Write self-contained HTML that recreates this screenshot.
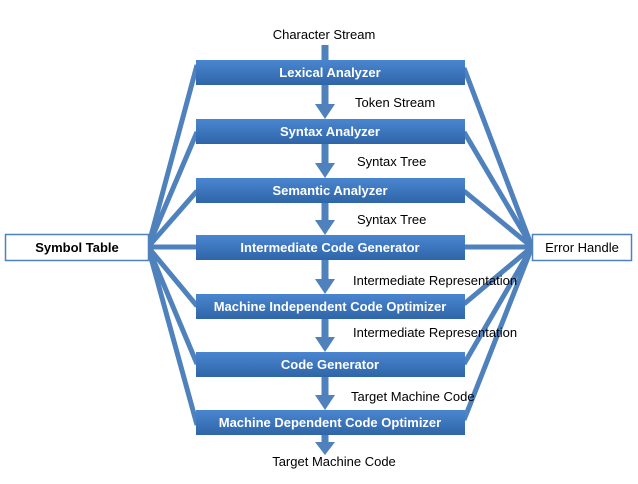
<!DOCTYPE html>
<html><head><style>
body{margin:0;width:638px;height:479px;background:#fff;overflow:hidden;font-family:"Liberation Sans",sans-serif}
</style></head><body>
<svg width="638" height="479" xmlns="http://www.w3.org/2000/svg">
<defs>
<linearGradient id="g" x1="0" y1="0" x2="0" y2="1">
<stop offset="0" stop-color="#4a86d0"/><stop offset="1" stop-color="#2f65a8"/>
</linearGradient>
</defs>
<g stroke="#4f81bd" stroke-width="5" fill="none">
<line x1="148" y1="247" x2="197" y2="65"/>
<line x1="148" y1="247" x2="197" y2="132"/>
<line x1="148" y1="247" x2="197" y2="191"/>
<line x1="148" y1="247" x2="197" y2="247"/>
<line x1="148" y1="247" x2="197" y2="306"/>
<line x1="148" y1="247" x2="197" y2="364"/>
<line x1="148" y1="247" x2="197" y2="425"/>
<line x1="532" y1="247" x2="464" y2="68"/>
<line x1="532" y1="247" x2="464" y2="132"/>
<line x1="532" y1="247" x2="464" y2="191"/>
<line x1="532" y1="247" x2="464" y2="247"/>
<line x1="532" y1="247" x2="464" y2="304"/>
<line x1="532" y1="247" x2="464" y2="364"/>
<line x1="532" y1="247" x2="464" y2="420"/>
</g>
<g fill="#4f81bd" stroke="#4f81bd">
<g stroke-width="7">
<line x1="325" y1="45" x2="325" y2="60"/>
<line x1="325" y1="85" x2="325" y2="108"/>
<line x1="325" y1="144" x2="325" y2="167"/>
<line x1="325" y1="203" x2="325" y2="224"/>
<line x1="325" y1="260" x2="325" y2="283"/>
<line x1="325" y1="319" x2="325" y2="341"/>
<line x1="325" y1="377" x2="325" y2="399"/>
<line x1="325" y1="435" x2="325" y2="445"/>
</g>
<polygon stroke="none" points="315,104 335,104 325,119"/>
<polygon stroke="none" points="315,163 335,163 325,178"/>
<polygon stroke="none" points="315,220 335,220 325,235"/>
<polygon stroke="none" points="315,279 335,279 325,294"/>
<polygon stroke="none" points="315,337 335,337 325,352"/>
<polygon stroke="none" points="315,395 335,395 325,410"/>
<polygon stroke="none" points="315,442 335,442 325,455"/>
</g>
<g fill="url(#g)">
<rect x="196" y="60" width="269" height="25"/>
<rect x="196" y="119" width="269" height="25"/>
<rect x="196" y="178" width="269" height="25"/>
<rect x="196" y="235" width="269" height="25"/>
<rect x="196" y="294" width="269" height="25"/>
<rect x="196" y="352" width="269" height="25"/>
<rect x="196" y="410" width="269" height="25"/>
</g>
<g fill="#fff" font-size="13" font-weight="bold" text-anchor="middle">
<text x="330" y="77">Lexical Analyzer</text>
<text x="330" y="136">Syntax Analyzer</text>
<text x="330" y="195">Semantic Analyzer</text>
<text x="330" y="252">Intermediate Code Generator</text>
<text x="330" y="311">Machine Independent Code Optimizer</text>
<text x="330" y="369">Code Generator</text>
<text x="330" y="427">Machine Dependent Code Optimizer</text>
</g>
<rect x="5.5" y="234.5" width="143" height="26" fill="#fff" stroke="#4f81bd" stroke-width="1.5"/>
<rect x="532.5" y="234.5" width="99" height="26" fill="#fff" stroke="#4f81bd" stroke-width="1.5"/>
<text x="77" y="252" font-size="13" font-weight="bold" text-anchor="middle">Symbol Table</text>
<g font-size="13" fill="#000">
<text x="582" y="252" text-anchor="middle">Error Handle</text>
<text x="324" y="39" text-anchor="middle">Character Stream</text>
<text x="355" y="107">Token Stream</text>
<text x="357" y="166">Syntax Tree</text>
<text x="357" y="224">Syntax Tree</text>
<text x="353" y="285">Intermediate Representation</text>
<text x="353" y="337">Intermediate Representation</text>
<text x="351" y="401">Target Machine Code</text>
<text x="334" y="466" text-anchor="middle">Target Machine Code</text>
</g>
</svg>
</body></html>
